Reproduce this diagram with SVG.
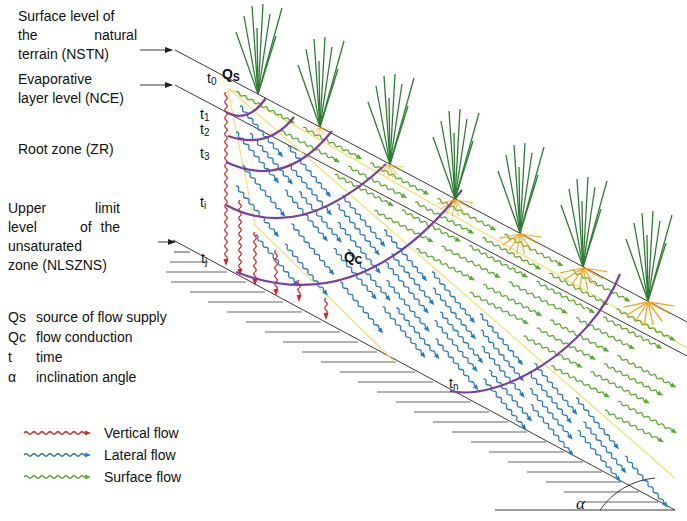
<svg xmlns="http://www.w3.org/2000/svg" xmlns:xlink="http://www.w3.org/1999/xlink" width="687" height="521" viewBox="0 0 687 521">
<style>
text{font-family:"Liberation Sans",Arial,sans-serif;font-size:14px;fill:#111}
.b{font-weight:bold}
.ln{stroke:#222;stroke-width:0.9;fill:none}
.ht{stroke:#666;stroke-width:1.2}
.arc{stroke:#7b3f9e;stroke-width:2.2;fill:none}
.yl{stroke:#f0e070;stroke-width:1.2;fill:none}
.lf{stroke:#2e7d32;stroke-width:1.3}
.rt{stroke:#f5a623;stroke-width:1}
</style>
<defs>
<marker id="mb" markerWidth="6" markerHeight="6" refX="3" refY="3" orient="auto" markerUnits="userSpaceOnUse"><path d="M0,0.5 L6,3 L0,5.5z" fill="#2a7bc4"/></marker>
<marker id="mg" markerWidth="6" markerHeight="6" refX="3" refY="3" orient="auto" markerUnits="userSpaceOnUse"><path d="M0,0.5 L6,3 L0,5.5z" fill="#5aaa32"/></marker>
<marker id="mr" markerWidth="6" markerHeight="6" refX="3" refY="3" orient="auto" markerUnits="userSpaceOnUse"><path d="M0,0.5 L6,3 L0,5.5z" fill="#e02020"/></marker>
<marker id="mk" markerWidth="8" markerHeight="8" refX="7" refY="4" orient="auto" markerUnits="userSpaceOnUse"><path d="M0,1 L8,4 L0,7z" fill="#222"/></marker>
<path id="wb" d="M0,0 q2,-2.5 4,0 t4,0 t4,0 t4,0 t4,0 t4,0 t4,0 t4,0 t4,0 t4,0 t4,0 t4,0 t4,0 t4,0 t4,0 l4,0" fill="none" stroke="#2a7bc4" stroke-width="1.3" marker-end="url(#mb)"/>
<path id="wg" d="M0,0 q2,-2.5 4,0 t4,0 t4,0 t4,0 t4,0 t4,0 t4,0 t4,0 t4,0 t4,0 t4,0 t4,0 t4,0 t4,0 t4,0 l4,0" fill="none" stroke="#5aaa32" stroke-width="1.3" marker-end="url(#mg)"/>
<path id="wr" d="M0,0 q2,-2.5 4,0 t4,0 t4,0 t4,0 t4,0 t4,0 t4,0 t4,0 t4,0 t4,0 t4,0 t4,0 t4,0 t4,0 t4,0 l4,0" fill="none" stroke="#e02020" stroke-width="1.3" marker-end="url(#mr)"/>
<pattern id="pr" patternUnits="userSpaceOnUse" width="6" height="8"><path d="M3,0 q-2.5,2 0,4 t0,4" fill="none" stroke="#e02020" stroke-width="1.3"/></pattern>
<g id="plant">
<line class="lf" x1="0" y1="0" x2="-22" y2="-62"/><line class="lf" x1="0" y1="0" x2="-14" y2="-78"/><line class="lf" x1="0" y1="0" x2="-6" y2="-88"/><line class="lf" x1="0" y1="0" x2="-1" y2="-66"/><line class="lf" x1="0" y1="0" x2="5" y2="-90"/><line class="lf" x1="0" y1="0" x2="12" y2="-80"/><line class="lf" x1="0" y1="0" x2="18" y2="-58"/><line class="lf" x1="0" y1="0" x2="24" y2="-86"/>
</g>
<g id="root">
<line class="rt" x1="0" y1="0" x2="-16" y2="10"/><line class="rt" x1="0" y1="0" x2="-10" y2="15"/><line class="rt" x1="0" y1="0" x2="-3" y2="18"/><line class="rt" x1="0" y1="0" x2="4" y2="18"/><line class="rt" x1="0" y1="0" x2="11" y2="15"/><line class="rt" x1="0" y1="0" x2="17" y2="9"/><line class="rt" x1="0" y1="0" x2="-19" y2="4"/><line class="rt" x1="0" y1="0" x2="20" y2="3"/>
</g>
</defs>
<rect width="687" height="521" fill="#fff"/>

<g id="ground">
<line class="ht" x1="174" y1="252" x2="190" y2="252"/><line class="ht" x1="170" y1="262" x2="208" y2="262"/><line class="ht" x1="166" y1="272" x2="227" y2="272"/><line class="ht" x1="171" y1="282" x2="246" y2="282"/><line class="ht" x1="190" y1="292" x2="265" y2="292"/><line class="ht" x1="208" y1="302" x2="283" y2="302"/><line class="ht" x1="227" y1="312" x2="302" y2="312"/><line class="ht" x1="246" y1="322" x2="321" y2="322"/><line class="ht" x1="265" y1="332" x2="340" y2="332"/><line class="ht" x1="283" y1="342" x2="358" y2="342"/><line class="ht" x1="302" y1="352" x2="377" y2="352"/><line class="ht" x1="321" y1="362" x2="396" y2="362"/><line class="ht" x1="340" y1="372" x2="415" y2="372"/><line class="ht" x1="358" y1="382" x2="433" y2="382"/><line class="ht" x1="377" y1="392" x2="452" y2="392"/><line class="ht" x1="396" y1="402" x2="471" y2="402"/><line class="ht" x1="414" y1="412" x2="489" y2="412"/><line class="ht" x1="433" y1="422" x2="508" y2="422"/><line class="ht" x1="452" y1="432" x2="527" y2="432"/><line class="ht" x1="471" y1="442" x2="546" y2="442"/><line class="ht" x1="489" y1="452" x2="564" y2="452"/><line class="ht" x1="508" y1="462" x2="583" y2="462"/><line class="ht" x1="527" y1="472" x2="602" y2="472"/><line class="ht" x1="546" y1="482" x2="621" y2="482"/><line class="ht" x1="564" y1="492" x2="639" y2="492"/><line class="ht" x1="583" y1="502" x2="658" y2="502"/>
<line class="ln" x1="495" y1="510" x2="675" y2="510"/>
<line class="ln" x1="173" y1="240" x2="675" y2="510"/>
<path class="ln" d="M600,510 A75,75 0 0 1 655,478"/>
<text x="576" y="509" style="font-family:'Liberation Serif',serif;font-style:italic;font-size:17px">α</text>
</g>

<g id="terrain">
<line class="ln" x1="175" y1="50" x2="687" y2="322"/>
<line class="ln" x1="175" y1="85" x2="687" y2="356"/>
</g>

<g id="yellow">
<line class="yl" x1="228" y1="88" x2="675" y2="478"/>
<polyline class="yl" points="228,90 255,225 395,362"/>
<line class="yl" x1="232" y1="90" x2="687" y2="348"/>
</g>

<g id="green-flow">
<g transform="translate(236,92) rotate(28)"><use href="#wg"/><use href="#wg" x="76"/><use href="#wg" x="152"/><use href="#wg" x="228"/><use href="#wg" x="304"/><use href="#wg" x="380"/></g>
<g transform="translate(281,131) rotate(28)"><use href="#wg"/><use href="#wg" x="76"/><use href="#wg" x="152"/><use href="#wg" x="228"/><use href="#wg" x="304"/><use href="#wg" x="380"/></g>
<g transform="translate(326,170) rotate(28)"><use href="#wg" x="10"/><use href="#wg" x="86"/><use href="#wg" x="162"/><use href="#wg" x="238"/><use href="#wg" x="314"/></g>
<g transform="translate(371,209) rotate(28)"><use href="#wg" x="4"/><use href="#wg" x="80"/><use href="#wg" x="156"/><use href="#wg" x="232"/></g>
<g transform="translate(416,249) rotate(28)"><use href="#wg"/><use href="#wg" x="76"/><use href="#wg" x="152"/><use href="#wg" x="228"/></g>
<g transform="translate(461,288) rotate(28)"><use href="#wg" x="10"/><use href="#wg" x="86"/><use href="#wg" x="162"/></g>
<g transform="translate(506,327) rotate(28)"><use href="#wg" x="20"/><use href="#wg" x="96"/></g>
<g transform="translate(551,366) rotate(28)"><use href="#wg"/><use href="#wg" x="76"/></g>
<g transform="translate(596,406) rotate(28)"><use href="#wg" x="10"/></g>
</g>

<g id="lateral-flow">
<g transform="translate(240,106) rotate(50)"><use href="#wb"/><use href="#wb" x="76"/><use href="#wb" x="152"/><use href="#wb" x="228"/><use href="#wb" x="304"/></g>
<g transform="translate(237,118) rotate(50)"><use href="#wb" x="20"/><use href="#wb" x="96"/><use href="#wb" x="172"/><use href="#wb" x="248"/></g>
<g transform="translate(236,132) rotate(50)"><use href="#wb"/><use href="#wb" x="76"/><use href="#wb" x="152"/><use href="#wb" x="228"/></g>
<g transform="translate(236,158) rotate(50)"><use href="#wb" x="10"/><use href="#wb" x="86"/><use href="#wb" x="162"/></g>
<g transform="translate(236,186) rotate(50)"><use href="#wb"/><use href="#wb" x="76"/></g>
<g transform="translate(236,212) rotate(50)"><use href="#wb" x="30"/></g>
<g transform="translate(288,146) rotate(50)"><use href="#wb"/><use href="#wb" x="76"/><use href="#wb" x="152"/><use href="#wb" x="228"/><use href="#wb" x="304"/></g>
<g transform="translate(336,188) rotate(50)"><use href="#wb" x="10"/><use href="#wb" x="86"/><use href="#wb" x="162"/><use href="#wb" x="238"/></g>
<g transform="translate(384,230) rotate(50)"><use href="#wb"/><use href="#wb" x="76"/><use href="#wb" x="152"/><use href="#wb" x="228"/></g>
<g transform="translate(432,272) rotate(50)"><use href="#wb"/><use href="#wb" x="76"/><use href="#wb" x="152"/></g>
<g transform="translate(480,314) rotate(50)"><use href="#wb"/><use href="#wb" x="76"/><use href="#wb" x="152"/></g>
<g transform="translate(528,356) rotate(50)"><use href="#wb" x="10"/><use href="#wb" x="86"/></g>
<g transform="translate(576,398) rotate(50)"><use href="#wb"/><use href="#wb" x="76"/></g>
</g>

<g id="vertical-flow">
<g transform="translate(223,92)"><rect width="6" height="168" fill="url(#pr)"/><path d="M0.5,167 L3,174 L5.5,167z" fill="#e02020"/></g>
<g transform="translate(237,200)"><rect width="6" height="70" fill="url(#pr)"/><path d="M0.5,69 L3,76 L5.5,69z" fill="#e02020"/></g>
<g transform="translate(252,232)"><rect width="6" height="48" fill="url(#pr)"/><path d="M0.5,47 L3,54 L5.5,47z" fill="#e02020"/></g>
<g transform="translate(273,250)"><rect width="6" height="40" fill="url(#pr)"/><path d="M0.5,39 L3,46 L5.5,39z" fill="#e02020"/></g>
<g transform="translate(296,280)"><rect width="6" height="16" fill="url(#pr)"/><path d="M0.5,15 L3,22 L5.5,15z" fill="#e02020"/></g>
<g transform="translate(323,298)"><rect width="6" height="16" fill="url(#pr)"/><path d="M0.5,15 L3,22 L5.5,15z" fill="#e02020"/></g>
</g>

<g id="fronts">
<path class="arc" d="M226,112 Q248,124 266,98"/>
<path class="arc" d="M228,136 Q268,150 294,117"/>
<path class="arc" d="M226,162 Q285,190 332,131"/>
<path class="arc" d="M226,205 Q300,245 386,164"/>
<path class="arc" d="M236,272 Q360,320 462,190"/>
<path class="arc" d="M450,391 C500,402 590,350 620,274"/>
</g>

<g id="plants">
<use href="#plant" x="258" y="94"/>
<use href="#plant" x="320" y="127"/>
<use href="#plant" x="390" y="164"/>
<use href="#plant" x="455" y="199"/>
<use href="#plant" x="520" y="233"/>
<use href="#plant" x="583" y="267"/>
<use href="#plant" x="648" y="301"/>
<g transform="translate(320,128) scale(0.5)"><use href="#root"/></g>
<g transform="translate(390,165) scale(0.7)"><use href="#root"/></g>
<g transform="translate(455,200) scale(0.9)"><use href="#root"/></g>
<g transform="translate(520,234) scale(1.1)"><use href="#root"/></g>
<g transform="translate(583,268) scale(1.2)"><use href="#root"/></g>
<g transform="translate(648,302) scale(1.3)"><use href="#root"/></g>
</g>

<g id="connectors">
<line class="ln" x1="140" y1="50" x2="172" y2="50" marker-end="url(#mk)"/>
<line class="ln" x1="140" y1="85" x2="172" y2="85" marker-end="url(#mk)"/>
<line class="ln" x1="158" y1="242" x2="175" y2="242" marker-end="url(#mk)"/>
</g>

<g id="labels">
<text x="18" y="21">Surface level of</text>
<text x="18" y="40">the</text><text x="137" y="40" text-anchor="end">natural</text>
<text x="18" y="59">terrain (NSTN)</text>
<text x="18" y="84">Evaporative</text>
<text x="18" y="103">layer level (NCE)</text>
<text x="18" y="154">Root zone (ZR)</text>
<text x="8" y="213">Upper</text><text x="120" y="213" text-anchor="end">limit</text>
<text x="8" y="232">level</text><text x="80" y="232">of</text><text x="120" y="232" text-anchor="end">the</text>
<text x="8" y="251">unsaturated</text>
<text x="8" y="270">zone (NLSZNS)</text>
<text x="8" y="322">Qs</text><text x="36" y="322">source of flow supply</text>
<text x="8" y="342">Qc</text><text x="36" y="342">flow conduction</text>
<text x="8" y="362">t</text><text x="36" y="362">time</text>
<text x="8" y="382">α</text><text x="36" y="382">inclination angle</text>
<text class="b" x="222" y="79">Q<tspan font-size="10" dy="2">S</tspan></text>
<text class="b" x="344" y="262">Q<tspan font-size="10" dy="2">C</tspan></text>
<text x="207" y="83">t<tspan font-size="10" dy="2">0</tspan></text>
<text x="200" y="119">t<tspan font-size="10" dy="2">1</tspan></text>
<text x="200" y="134">t<tspan font-size="10" dy="2">2</tspan></text>
<text x="200" y="158">t<tspan font-size="10" dy="2">3</tspan></text>
<text x="200" y="207">t<tspan font-size="10" dy="2">i</tspan></text>
<text x="201" y="263">t<tspan font-size="10" dy="2">j</tspan></text>
<text x="449" y="388">t<tspan font-size="10" dy="2">n</tspan></text>
</g>

<g id="legend">
<use href="#wr" x="24" y="433"/><text x="104" y="438">Vertical flow</text>
<use href="#wb" x="24" y="455"/><text x="104" y="460">Lateral flow</text>
<use href="#wg" x="24" y="477"/><text x="104" y="482">Surface flow</text>
</g>
</svg>
